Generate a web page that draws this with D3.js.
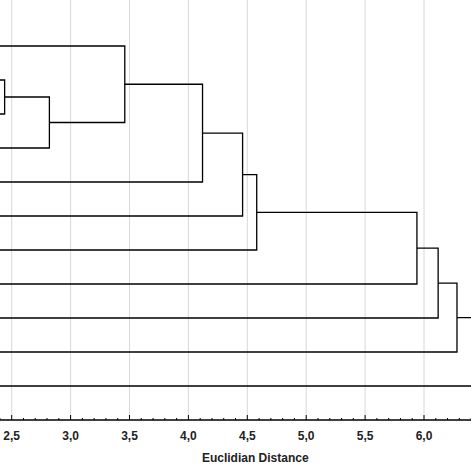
<!DOCTYPE html>
<html><head><meta charset="utf-8">
<script src="https://cdn.jsdelivr.net/npm/d3@7"></script>
<style>body{margin:0;background:#fff}svg{display:block}</style>
</head><body>
<script>
const leaves = ["L1","L2","L3","L4","L5","L6","L7","L8","L9","L10","L11"];
// merges: [childA, childB, height]; children are leaf names or "M"+index
const mergeA = ["L2","M0","L1","M2","M3","M4","M5","M6","M7","M8"];
const mergeB = ["L3","L4","M1","L5","L6","L7","L8","L9","L10","L11"];
const mergeH = [2.44,2.82,3.46,4.12,4.46,4.58,5.94,6.12,6.28,6.55];
const ticks = ["2,5","3,0","3,5","4,0","4,5","5,0","5,5","6,0"];
const tickVals = [2.5,3.0,3.5,4.0,4.5,5.0,5.5,6.0];
const W=471,H=471;
const svg=d3.select("body").append("svg").attr("width",W).attr("height",H);
const x=d3.scaleLinear().domain([2.5,6.0]).range([11.7,424]);
const y=d3.scalePoint().domain(leaves).range([46,386]);
const axisY=420, lo=x.invert(0);
// grid
svg.selectAll(".g").data(tickVals).enter().append("line")
 .attr("x1",d=>x(d)).attr("x2",d=>x(d)).attr("y1",0).attr("y2",axisY)
 .attr("stroke","#d8d8d8").attr("stroke-width",1);
const pos={};
leaves.forEach(l=>pos[l]={y:y(l),h:lo});
const g=svg.append("g").attr("stroke","#000").attr("stroke-width",1.3).attr("fill","none");
mergeA.forEach((a,i)=>{
  const b=mergeB[i],h=mergeH[i],A=pos[a],B=pos[b];
  g.append("path").attr("d",`M${x(A.h)},${A.y}H${x(h)}V${B.y}H${x(B.h)}`);
  pos["M"+i]={y:(A.y+B.y)/2,h:h};
});
// axis
svg.append("line").attr("x1",0).attr("x2",W).attr("y1",axisY).attr("y2",axisY).attr("stroke","#000").attr("stroke-width",1.3);
const minor=d3.range(24,65).map(v=>v/10);
svg.selectAll(".mt").data(minor).enter().append("line")
 .attr("x1",d=>x(d)).attr("x2",d=>x(d)).attr("y1",axisY).attr("y2",d=>axisY-(Math.abs(d*2-Math.round(d*2))<1e-6?5:2))
 .attr("stroke","#000");
svg.selectAll(".tl").data(tickVals).enter().append("text")
 .attr("x",d=>x(d)).attr("y",440).attr("text-anchor","middle")
 .attr("font-family","Liberation Sans, Arial").attr("font-size",12).attr("font-weight","bold").attr("fill","#222")
 .text((d,i)=>ticks[i]);
svg.append("text").attr("x",x(4.5)+8).attr("y",462).attr("text-anchor","middle")
 .attr("font-family","Liberation Sans, Arial").attr("font-size",12).attr("font-weight","bold").attr("fill","#222")
 .text("Euclidian Distance");
</script>
</body></html>
